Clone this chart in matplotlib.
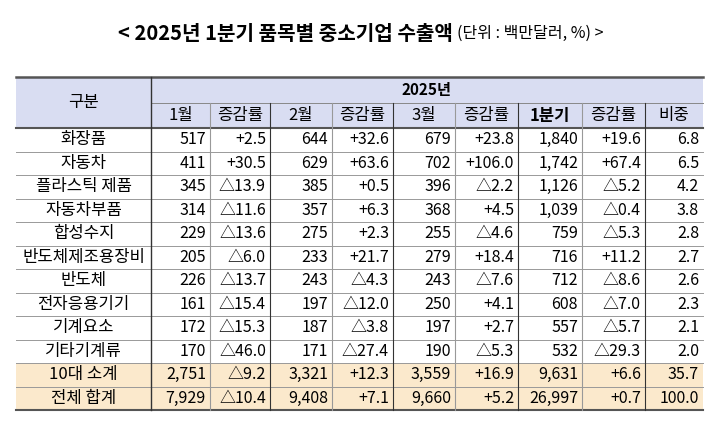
import matplotlib.pyplot as plt
from matplotlib.patches import Rectangle

plt.rcParams['font.family'] = 'Noto Sans CJK KR'

title = "< 2025년 1분기 품목별 중소기업 수출액"
unit = "(단위 : 백만달러, %) >"
items = ["화장품", "자동차", "플라스틱 제품", "자동차부품", "합성수지", "반도체제조용장비",
         "반도체", "전자응용기기", "기계요소", "기타기계류", "10대 소계", "전체 합계"]
jan = ["517", "411", "345", "314", "229", "205", "226", "161", "172", "170", "2,751", "7,929"]
jan_rate = ["+2.5", "+30.5", "△13.9", "△11.6", "△13.6", "△6.0", "△13.7", "△15.4", "△15.3", "△46.0", "△9.2", "△10.4"]
feb = ["644", "629", "385", "357", "275", "233", "243", "197", "187", "171", "3,321", "9,408"]
feb_rate = ["+32.6", "+63.6", "+0.5", "+6.3", "+2.3", "+21.7", "△4.3", "△12.0", "△3.8", "△27.4", "+12.3", "+7.1"]
mar = ["679", "702", "396", "368", "255", "279", "243", "250", "197", "190", "3,559", "9,660"]
mar_rate = ["+23.8", "+106.0", "△2.2", "+4.5", "△4.6", "+18.4", "△7.6", "+4.1", "+2.7", "△5.3", "+16.9", "+5.2"]
q1 = ["1,840", "1,742", "1,126", "1,039", "759", "716", "712", "608", "557", "532", "9,631", "26,997"]
q1_rate = ["+19.6", "+67.4", "△5.2", "△0.4", "△5.3", "+11.2", "△8.6", "△7.0", "△5.7", "△29.3", "+6.6", "+0.7"]
share = ["6.8", "6.5", "4.2", "3.8", "2.8", "2.7", "2.6", "2.3", "2.1", "2.0", "35.7", "100.0"]
sub_headers = ["1월", "증감률", "2월", "증감률", "3월", "증감률", "1분기", "증감률", "비중"]

cols = [jan, jan_rate, feb, feb_rate, mar, mar_rate, q1, q1_rate, share]
xs = [16, 151, 210, 270, 332, 393, 455, 518, 582, 645, 703]
y_top, y_mid, y_hdr = 77, 103, 128
row_h = 23.5

fig = plt.figure(figsize=(7.2, 4.22), dpi=100)
ax = fig.add_axes([0, 0, 1, 1])
ax.set_xlim(0, 720)
ax.set_ylim(422, 0)
ax.axis('off')

ax.text(453, 33, title, ha='right', va='center', fontsize=14.5, fontweight='bold')
ax.text(457, 33, unit, ha='left', va='center', fontsize=11.5)

y_bot = y_hdr + row_h * len(items)
hdr_color = '#D9DDF2'
tot_color = '#FBE9CC'
ax.add_patch(Rectangle((xs[0], y_top), xs[-1] - xs[0], y_hdr - y_top, color=hdr_color, lw=0))
for i in (10, 11):
    ax.add_patch(Rectangle((xs[0], y_hdr + i * row_h), xs[-1] - xs[0], row_h, color=tot_color, lw=0))

# header texts
ax.text((xs[0] + xs[1]) / 2, (y_top + y_hdr) / 2, "구분", ha='center', va='center', fontsize=12)
ax.text((xs[1] + xs[-1]) / 2, (y_top + y_mid) / 2, "2025년", ha='center', va='center', fontsize=11, fontweight='bold')
for j, h in enumerate(sub_headers):
    cx = (xs[j + 1] + xs[j + 2]) / 2
    ax.text(cx, (y_mid + y_hdr) / 2, h, ha='center', va='center', fontsize=12,
            fontweight='bold' if h == "1분기" else 'normal')

for i, name in enumerate(items):
    cy = y_hdr + (i + 0.5) * row_h
    ax.text((xs[0] + xs[1]) / 2, cy, name, ha='center', va='center', fontsize=12)
    for j, col in enumerate(cols):
        ax.text(xs[j + 2] - 4, cy, col[i], ha='right', va='center', fontsize=11.5)

# lines
ax.plot([xs[0], xs[-1]], [y_top, y_top], color='#555555', lw=1.8)
ax.plot([xs[1], xs[-1]], [y_mid, y_mid], color='#888888', lw=0.7)
ax.plot([xs[0], xs[-1]], [y_hdr, y_hdr], color='#555555', lw=1.5)
for i in range(1, len(items)):
    ax.plot([xs[0], xs[-1]], [y_hdr + i * row_h] * 2, color='#999999', lw=0.7)
ax.plot([xs[0], xs[-1]], [y_bot, y_bot], color='#555555', lw=1.5)
ax.plot([xs[1], xs[1]], [y_top, y_bot], color='#333333', lw=1.0)
for k, x in enumerate(xs[2:-1]):
    ax.plot([x, x], [y_mid, y_bot], color='#333333' if k % 2 == 1 else '#999999', lw=0.8)

fig.savefig('out.png', dpi=100)
